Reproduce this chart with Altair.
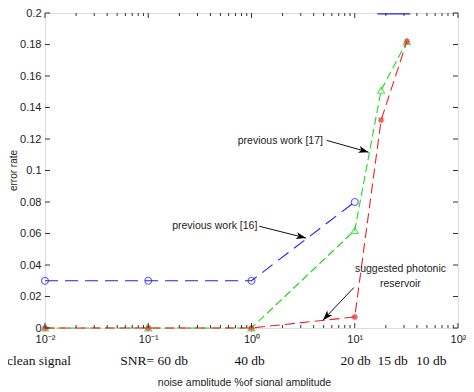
import altair as alt
import pandas as pd

# ---------------- data ----------------
blue_x = [0.01, 0.1, 1, 10]
blue_y = [0.03, 0.03, 0.03, 0.08]
blue_top_x = [16.6, 34.5]
blue_top_y = [0.1994, 0.1994]
green_x = [0.01, 0.1, 1, 10, 18, 32]
green_y = [0.0, 0.0, 0.0, 0.062, 0.151, 0.182]
red_x = [0.01, 0.1, 1, 10, 18, 32]
red_y = [0.0, 0.0, 0.0, 0.007, 0.132, 0.182]

x_major = [0.01, 0.1, 1, 10, 100]
x_minor = [m * 10.0 ** k for k in (-2, -1, 0, 1) for m in range(2, 10)]
y_major = [0, 0.02, 0.04, 0.06, 0.08, 0.1, 0.12, 0.14, 0.16, 0.18, 0.2]

ann_text = ["previous work [17]", "previous work [16]"]
ann_text_x = [4.92, 1.14]
ann_text_y = [0.119, 0.0646]
sugg_text = ["suggested photonic", "reservoir"]
sugg_x = [27.7, 27.7]
sugg_y = [0.0376, 0.0282]
arrow_x = [5.38, 1.19, 9.8]
arrow_y = [0.1191, 0.0646, 0.0257]
arrow_x2 = [13.6, 3.38, 4.92]
arrow_y2 = [0.1116, 0.0571, 0.0050]
arrow_angle = [106, 104, 223]

snr_text = ["clean signal", "SNR= 60 db", "40 db", "20 db", "15 db", "10 db"]
snr_x = [0.00875, 0.114, 0.96, 10.2, 23.3, 55]

BLUE, GREEN, RED = "#2020f0", "#20d820", "#f02020"
W, H = 413, 315

# ---------------- scales / axes ----------------
xscale = alt.Scale(type="log", domain=[0.01, 100], nice=False)
yscale = alt.Scale(domain=[0, 0.2], nice=False, zero=False)

xaxis = alt.Axis(
    values=x_major,
    labelExpr="datum.value == 0.01 ? '10⁻²' : datum.value == 0.1 ? '10⁻¹' : "
              "datum.value == 1 ? '10⁰' : datum.value == 10 ? '10¹' : '10²'",
    ticks=False, domain=False, grid=False,
    labelFontSize=11, labelPadding=5, labelColor="#222",
    labelFont="Liberation Sans", labelFlush=False,
    title="noise amplitude %of signal amplitude",
    titleFontSize=10.5, titleFontWeight="normal", titleColor="#222",
    titleFont="Liberation Sans",
    titleX=199, titleY=54, titleAlign="center", titleBaseline="middle",
)
yaxis = alt.Axis(
    values=y_major,
    labelExpr="datum.value == 0 ? '0' : format(datum.value, '.2~f')",
    ticks=False, domain=False, grid=False,
    labelFontSize=11, labelPadding=4, labelColor="#222",
    labelFont="Liberation Sans", labelFlush=False,
    title="error rate",
    titleFontSize=10, titleFontWeight="normal", titleColor="#222",
    titleFont="Liberation Sans",
    titleX=-32, titleY=157, titleAlign="center", titleBaseline="middle",
    titleAngle=270,
)

X = alt.X("x:Q", scale=xscale, axis=xaxis)
Y = alt.Y("y:Q", scale=yscale, axis=yaxis)


def df(xs, ys):
    return pd.DataFrame({"x": xs, "y": ys})


def line(xs, ys, color, dash, clip=False, sw=1.1):
    return alt.Chart(df(xs, ys)).mark_line(
        color=color, strokeWidth=sw, strokeDash=dash, clip=clip
    ).encode(x=X, y=Y)


layers = []
layers.append(line(blue_x, blue_y, BLUE, [13, 7]))
layers.append(line(blue_top_x, blue_top_y, BLUE, [1, 0], clip=True, sw=1.2))
layers.append(line(green_x, green_y, GREEN, [8, 4]))
layers.append(line(red_x, red_y, RED, [10, 5]))

layers.append(alt.Chart(df(blue_x, blue_y)).mark_point(
    shape="circle", filled=False, size=48, color=BLUE, strokeWidth=1.1
).encode(x=X, y=Y))
layers.append(alt.Chart(df(green_x, green_y)).mark_point(
    shape="triangle-up", filled=False, size=50, color=GREEN, strokeWidth=1.1
).encode(x=X, y=Y))
layers.append(alt.Chart(df(red_x, red_y)).mark_point(
    shape="M-1,0L1,0M0,-1L0,1M-0.7,-0.7L0.7,0.7M-0.7,0.7L0.7,-0.7",
    filled=False, size=40, color=RED, strokeWidth=1.4
).encode(x=X, y=Y))

# inward ticks (box style)
tick_color = "#333"
xmaj = pd.DataFrame({"x": x_major})
xmin = pd.DataFrame({"x": x_minor})
ymaj = pd.DataFrame({"y": y_major})
for d, ln in ((xmaj, 5), (xmin, 3)):
    layers.append(alt.Chart(d).mark_rule(color=tick_color, strokeWidth=1).encode(
        x=X, y=alt.value(H), y2=alt.value(H - ln)))
    layers.append(alt.Chart(d).mark_rule(color=tick_color, strokeWidth=1).encode(
        x=X, y=alt.value(0), y2=alt.value(ln)))
layers.append(alt.Chart(ymaj).mark_rule(color=tick_color, strokeWidth=1).encode(
    y=Y, x=alt.value(0), x2=alt.value(5)))
layers.append(alt.Chart(ymaj).mark_rule(color=tick_color, strokeWidth=1).encode(
    y=Y, x=alt.value(W), x2=alt.value(W - 5)))

# annotations
ann_df = pd.DataFrame({"x": ann_text_x, "y": ann_text_y, "t": ann_text})
layers.append(alt.Chart(ann_df).mark_text(
    align="right", baseline="middle", fontSize=10.5, font="Liberation Sans", color="#222"
).encode(x=X, y=Y, text="t:N"))
sugg_df = pd.DataFrame({"x": sugg_x, "y": sugg_y, "t": sugg_text})
layers.append(alt.Chart(sugg_df).mark_text(
    align="center", baseline="middle", fontSize=10.5, font="Liberation Sans", color="#222"
).encode(x=X, y=Y, text="t:N"))

arr_df = pd.DataFrame({"x": arrow_x, "y": arrow_y, "x2": arrow_x2, "y2": arrow_y2,
                       "a": arrow_angle})
layers.append(alt.Chart(arr_df).mark_rule(color="#111", strokeWidth=1).encode(
    x=X, y=Y, x2="x2:Q", y2="y2:Q"))
head_df = pd.DataFrame({"x": arrow_x2, "y": arrow_y2, "a": arrow_angle})
layers.append(alt.Chart(head_df).mark_point(
    shape="M0,0L0.7,2L0,1.5L-0.7,2Z", filled=True, size=100, color="#000",
    opacity=1, strokeWidth=0
).encode(x=X, y=Y, angle=alt.Angle("a:Q", scale=None)))

# SNR labels under the axis
snr_df = pd.DataFrame({"x": snr_x, "t": snr_text})
layers.append(alt.Chart(snr_df).mark_text(
    align="center", baseline="middle", fontSize=13.5, font="Liberation Serif", color="#111"
).encode(x=X, y=alt.value(348), text="t:N"))

chart = alt.layer(*layers).properties(
    width=W, height=H,
    autosize=alt.AutoSizeParams(type="none"),
    padding={"left": 37, "top": 5, "right": 8, "bottom": 58},
).configure_view(stroke="#444", strokeWidth=1.2).configure(background="white")

chart.save("out.html", embed_options={"renderer": "svg", "actions": False})
